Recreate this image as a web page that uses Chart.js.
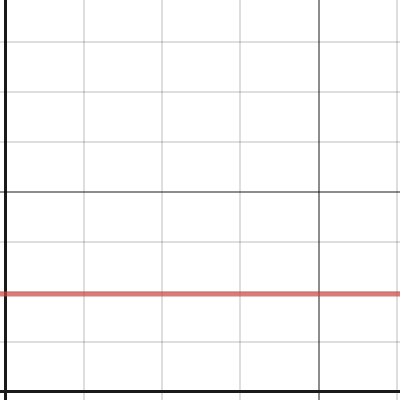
<!DOCTYPE html>
<html>
<head>
<meta charset="utf-8">
<script src="https://cdn.jsdelivr.net/npm/chart.js@4/dist/chart.umd.min.js"></script>
<style>
  html, body { margin: 0; padding: 0; background: #fff; }
  #wrap { width: 400px; height: 400px; }
</style>
</head>
<body>
<div id="wrap"><canvas id="graph"></canvas></div>
<script>
// Grid ticks (one line per unit) and the plotted constant line
const xTicks = [0, 1, 2, 3, 4, 5];
const yTicks = [0, 1, 2, 3, 4, 5, 6, 7];
const lineX = [-1, 6];
const lineY = [1.95, 1.95];

// grid style: axis at 0, major line at 4, minor elsewhere
function gridColor(ctx) {
  const v = ctx.tick && ctx.tick.value;
  if (v === 0) return "#1a1a1a";
  if (v === 4) return "rgba(0,0,0,0.45)";
  return "rgba(0,0,0,0.13)";
}
function gridWidth(ctx) {
  const v = ctx.tick && ctx.tick.value;
  if (v === 0) return 3;
  return 2;
}

function axis(min, max, ticks) {
  return {
    type: "linear",
    min,
    max,
    afterBuildTicks: (scale) => {
      scale.ticks = ticks.map((v) => ({ value: v }));
    },
    ticks: { display: false },
    border: { display: false },
    grid: {
      drawTicks: false,
      color: gridColor,
      lineWidth: gridWidth,
    },
  };
}

new Chart(document.getElementById("graph"), {
  type: "line",
  data: {
    datasets: [
      {
        data: lineX.map((x, i) => ({ x, y: lineY[i] })),
        borderColor: "rgba(199, 68, 64, 0.7)",
        borderWidth: 5,
        pointRadius: 0,
        fill: false,
      },
    ],
  },
  options: {
    responsive: true,
    maintainAspectRatio: false,
    animation: false,
    layout: { padding: 0 },
    plugins: {
      legend: { display: false },
      tooltip: { enabled: false },
    },
    scales: {
      x: axis(-0.07, 5.04, xTicks),
      y: axis(-0.17, 7.83, yTicks),
    },
  },
});
</script>
</body>
</html>
